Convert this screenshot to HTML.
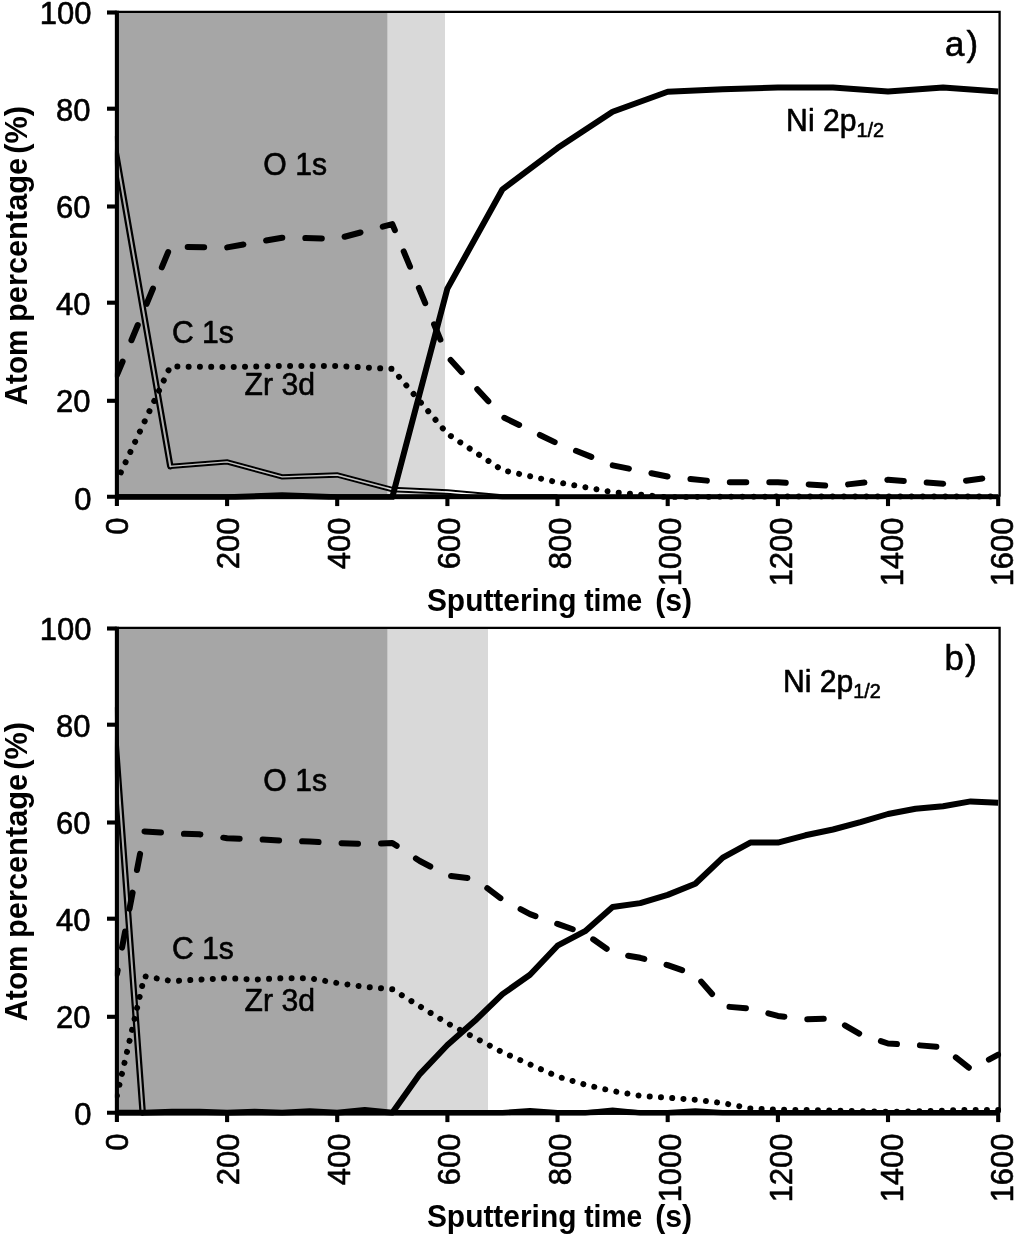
<!DOCTYPE html>
<html lang="en">
<head>
<meta charset="utf-8">
<title>XPS depth profiles</title>
<style>
html,body{margin:0;padding:0;background:#fff;}
body{width:1024px;height:1238px;overflow:hidden;}
svg{display:block;}
text{font-family:"Liberation Sans",sans-serif;fill:#000;}
.tick{font-size:31px;stroke:#000;stroke-width:0.6px;stroke-linejoin:round;}
.lab{font-size:31px;stroke:#000;stroke-width:0.6px;stroke-linejoin:round;}
.ttl text{font-size:31px;font-weight:bold;}
</style>
</head>
<body>
<svg width="1024" height="1238" viewBox="0 0 1024 1238">
<rect x="0" y="0" width="1024" height="1238" fill="#fff"/>

<g>
<rect x="116.9" y="12.5" width="270.8" height="484.3" fill="#a6a6a6"/>
<rect x="387.7" y="12.5" width="57.3" height="484.3" fill="#d9d9d9"/>
<path d="M116.9 11.8 H999.6 V496.8" fill="none" stroke="#000" stroke-width="2.3"/>
<clipPath id="cp0"><rect x="114.9" y="8.5" width="886.3" height="491.3"/></clipPath>
<g clip-path="url(#cp0)" fill="none" stroke="#000" stroke-linejoin="round">
<mask id="mk0" maskUnits="userSpaceOnUse" x="0" y="0" width="1024" height="1238" fill="none" stroke-linejoin="miter"><path d="M170.3 466.3 L227.1 461.9 L282.1 476.9 L337.2 475.0 L392.3 489.5 L447.4 492.0 L502.5 496.8 L557.5 496.8" stroke="#fff" stroke-width="5.3"/><path d="M113.0 136.5 L170.3 466.3 L171.13 466.23" stroke="#fff" stroke-width="6.5" stroke-linejoin="round"/><path d="M170.3 466.3 L227.1 461.9 L282.1 476.9 L337.2 475.0 L392.3 489.5 L447.4 492.0 L502.5 496.8 L557.5 496.8" stroke="#000" stroke-width="1.3"/><path d="M113.0 136.5 L170.3 466.3 L171.13 466.23" stroke="#000" stroke-width="2" stroke-linejoin="round"/></mask>
<rect x="100" y="7.5" width="920" height="494.3" fill="#000" stroke="none" mask="url(#mk0)"/>
<path d="M170.3 466.3 L227.1 461.9 L282.1 476.9 L337.2 475.0 L392.3 489.5 L447.4 492.0 L502.5 496.8 L557.5 496.8" stroke="#fff" stroke-opacity="0.33" stroke-width="1.3" stroke-linejoin="miter"/>
<path d="M113.0 136.5 L170.3 466.3 L171.13 466.23" stroke="#fff" stroke-opacity="0.12" stroke-width="2" stroke-linejoin="round"/>
<path d="M116.9 480.8 L170.3 366.5 L227.1 367.0 L282.1 366.0 L337.2 366.0 L392.3 368.9 L447.4 433.8 L502.5 470.2 L557.5 482.3 L612.6 492.2 L667.7 497.3 L722.8 496.8 L777.9 496.6 L833.0 496.6 L888.0 496.6 L943.1 496.6 L998.2 496.6" stroke-width="6" stroke-linecap="round" stroke-dasharray="0.01 11.26" stroke-dashoffset="2.00"/>
<path d="M116.9 375.2 L170.3 246.9 L227.1 247.4 L282.1 237.7 L337.2 238.7 L392.3 224.1 L447.4 356.4 L502.5 416.9 L557.5 443.5 L612.6 465.3 L667.7 476.5 L722.8 482.3 L777.9 482.3 L833.0 486.1 L888.0 479.8 L943.1 483.7 L998.2 476.5" stroke-width="6" stroke-linecap="round" stroke-dasharray="16.5 23" stroke-dashoffset="1.65"/>
<path d="M116.9 497.3 L170.3 497.3 L227.1 497.3 L282.1 495.3 L337.2 497.3 L392.3 497.3 L447.4 288.6 L502.5 189.3 L557.5 148.1 L612.6 111.8 L667.7 91.7 L722.8 89.3 L777.9 87.6 L833.0 87.6 L888.0 91.4 L943.1 87.6 L998.2 91.4" stroke-width="6" stroke-linecap="butt"/>
<path d="M116.9 496.8 L998.2 496.8" stroke-width="5.0"/>
</g>
<g stroke="#000" stroke-width="4.1" fill="none">
<path d="M116.9 10.7 V506.1"/>
<path d="M107.0 496.8 H999.7"/>
<path d="M107 12.5 H116.9"/>
<path d="M107 108.7 H116.9"/>
<path d="M107 206.5 H116.9"/>
<path d="M107 302.7 H116.9"/>
<path d="M107 400.8 H116.9"/>
<path d="M227.1 496.8 V506.1"/>
<path d="M337.2 496.8 V506.1"/>
<path d="M447.4 496.8 V506.1"/>
<path d="M557.5 496.8 V506.1"/>
<path d="M667.7 496.8 V506.1"/>
<path d="M777.9 496.8 V506.1"/>
<path d="M888.0 496.8 V506.1"/>
<path d="M998.2 496.8 V506.1"/>
</g>
<text class="tick" x="91.4" y="23.7" text-anchor="end">100</text>
<text class="tick" x="90.4" y="120.8" text-anchor="end">80</text>
<text class="tick" x="90.4" y="218.0" text-anchor="end">60</text>
<text class="tick" x="90.4" y="315.2" text-anchor="end">40</text>
<text class="tick" x="90.4" y="412.3" text-anchor="end">20</text>
<text class="tick" x="91.4" y="509.5" text-anchor="end">0</text>
<text class="tick" transform="translate(128.4 517.4) rotate(-90)" text-anchor="end">0</text>
<text class="tick" transform="translate(239.0 517.4) rotate(-90)" text-anchor="end">200</text>
<text class="tick" transform="translate(349.6 517.4) rotate(-90)" text-anchor="end">400</text>
<text class="tick" transform="translate(460.2 517.4) rotate(-90)" text-anchor="end">600</text>
<text class="tick" transform="translate(570.8 517.4) rotate(-90)" text-anchor="end">800</text>
<text class="tick" transform="translate(681.4 517.4) rotate(-90)" text-anchor="end">1000</text>
<text class="tick" transform="translate(791.9 517.4) rotate(-90)" text-anchor="end">1200</text>
<text class="tick" transform="translate(902.5 517.4) rotate(-90)" text-anchor="end">1400</text>
<text class="tick" transform="translate(1013.1 517.4) rotate(-90)" text-anchor="end">1600</text>
<g class="ttl">
<text transform="translate(426.90 611.2) scale(0.9655 1)">Sputtering</text>
<text transform="translate(584.20 611.2) scale(0.9102 1)">time</text>
<text transform="translate(655.22 611.2) scale(0.9758 1)">(s)</text>
<text transform="translate(26.9 405.30) rotate(-90) scale(0.9556 1)">Atom</text>
<text transform="translate(26.9 321.99) rotate(-90) scale(0.9929 1)">percentage</text>
<text transform="translate(26.9 153.69) rotate(-90) scale(0.9893 1)">(%)</text>
</g>
<text class="lab" transform="translate(263.3 175.1) scale(0.973 1)">O 1s</text>
<text class="lab" transform="translate(171.9 342.8) scale(0.973 1)">C 1s</text>
<text class="lab" transform="translate(244.6 394.9) scale(0.973 1)">Zr 3d</text>
<text class="lab" transform="translate(786.1 131.2) scale(0.973 1)">Ni 2p<tspan font-size="20.4px" dy="5.6">1/2</tspan></text>
<text class="lab" x="944.9" y="55.7" style="font-size:34.8px">a<tspan dx="2.2">)</tspan></text>
</g>
<g>
<rect x="116.9" y="628.5" width="270.8" height="484.3" fill="#a6a6a6"/>
<rect x="387.7" y="628.5" width="100.3" height="484.3" fill="#d9d9d9"/>
<path d="M116.9 627.8 H999.6 V1112.8" fill="none" stroke="#000" stroke-width="2.3"/>
<clipPath id="cp1"><rect x="114.9" y="624.5" width="886.3" height="491.3"/></clipPath>
<g clip-path="url(#cp1)" fill="none" stroke="#000" stroke-linejoin="round">
<mask id="mk1" maskUnits="userSpaceOnUse" x="0" y="0" width="1024" height="1238" fill="none" stroke-linejoin="miter"><path d="M142.7 1112.8 L585.1 1112.8 L612.6 1110.1 L640.2 1112.8 L998.2 1112.8" stroke="#fff" stroke-width="5.3"/><path d="M113.0 707.4 L142.7 1112.8 L143.48 1112.80" stroke="#fff" stroke-width="6.5" stroke-linejoin="round"/><path d="M142.7 1112.8 L585.1 1112.8 L612.6 1110.1 L640.2 1112.8 L998.2 1112.8" stroke="#000" stroke-width="1.3"/><path d="M113.0 707.4 L142.7 1112.8 L143.48 1112.80" stroke="#000" stroke-width="2" stroke-linejoin="round"/></mask>
<rect x="100" y="623.5" width="920" height="494.3" fill="#000" stroke="none" mask="url(#mk1)"/>
<path d="M142.7 1112.8 L585.1 1112.8 L612.6 1110.1 L640.2 1112.8 L998.2 1112.8" stroke="#fff" stroke-opacity="0.33" stroke-width="1.3" stroke-linejoin="miter"/>
<path d="M113.0 707.4 L142.7 1112.8 L143.48 1112.80" stroke="#fff" stroke-opacity="0.12" stroke-width="2" stroke-linejoin="round"/>
<path d="M116.9 1095.8 L144.4 976.2 L172.0 981.1 L199.5 979.6 L227.1 978.2 L254.6 979.6 L282.1 978.2 L309.7 978.2 L337.2 983.0 L364.8 986.9 L392.3 989.3 L419.8 1006.3 L447.4 1023.2 L474.9 1037.7 L502.5 1052.3 L530.0 1064.4 L557.5 1076.5 L585.1 1084.7 L612.6 1091.0 L640.2 1095.8 L667.7 1097.8 L695.3 1099.7 L722.8 1103.1 L750.3 1108.4 L777.9 1109.7 L805.4 1110.1 L833.0 1110.6 L860.5 1111.3 L888.0 1111.8 L915.6 1111.3 L943.1 1110.6 L970.7 1109.9 L998.2 1109.9" stroke-width="6" stroke-linecap="round" stroke-dasharray="0.01 11.26" stroke-dashoffset="0.00"/>
<path d="M116.9 974.3 L144.4 831.4 L172.0 833.4 L199.5 834.3 L227.1 838.2 L254.6 839.2 L282.1 840.6 L309.7 841.6 L337.2 843.0 L364.8 844.0 L392.3 843.0 L419.8 861.0 L447.4 875.5 L474.9 878.9 L502.5 899.7 L530.0 914.2 L557.5 923.9 L585.1 933.6 L612.6 953.0 L640.2 957.8 L667.7 965.1 L695.3 974.8 L722.8 1006.3 L750.3 1008.7 L777.9 1015.9 L805.4 1019.3 L833.0 1018.4 L860.5 1034.3 L888.0 1043.5 L915.6 1045.0 L943.1 1047.4 L970.7 1069.2 L998.2 1054.7" stroke-width="6" stroke-linecap="round" stroke-dasharray="16.5 23" stroke-dashoffset="12.35"/>
<path d="M116.9 1112.8 L144.4 1112.8 L172.0 1111.8 L199.5 1111.8 L227.1 1112.8 L254.6 1111.8 L282.1 1112.8 L309.7 1111.3 L337.2 1112.8 L364.8 1109.9 L392.3 1112.8 L419.8 1074.1 L447.4 1045.0 L474.9 1020.8 L502.5 994.1 L530.0 974.8 L557.5 945.7 L585.1 931.2 L612.6 907.0 L640.2 903.1 L667.7 894.9 L695.3 883.7 L722.8 857.6 L750.3 842.6 L777.9 842.6 L805.4 835.3 L833.0 829.5 L860.5 822.2 L888.0 814.0 L915.6 808.7 L943.1 806.2 L970.7 801.4 L998.2 802.8" stroke-width="6" stroke-linecap="butt"/>
<path d="M116.9 1112.8 L502.5 1112.8 L530.0 1110.9 L557.5 1112.8 L585.1 1112.8 L612.6 1111.8 L640.2 1112.8 L667.7 1112.8 L695.3 1111.1 L722.8 1112.8 L998.2 1112.8" stroke-width="5.6"/>
</g>
<g stroke="#000" stroke-width="4.1" fill="none">
<path d="M116.9 626.7 V1122.1"/>
<path d="M107.0 1112.8 H999.7"/>
<path d="M107 628.5 H116.9"/>
<path d="M107 724.7 H116.9"/>
<path d="M107 822.5 H116.9"/>
<path d="M107 918.7 H116.9"/>
<path d="M107 1016.8 H116.9"/>
<path d="M227.1 1112.8 V1122.1"/>
<path d="M337.2 1112.8 V1122.1"/>
<path d="M447.4 1112.8 V1122.1"/>
<path d="M557.5 1112.8 V1122.1"/>
<path d="M667.7 1112.8 V1122.1"/>
<path d="M777.9 1112.8 V1122.1"/>
<path d="M888.0 1112.8 V1122.1"/>
<path d="M998.2 1112.8 V1122.1"/>
</g>
<text class="tick" x="91.4" y="639.7" text-anchor="end">100</text>
<text class="tick" x="90.4" y="736.9" text-anchor="end">80</text>
<text class="tick" x="90.4" y="834.0" text-anchor="end">60</text>
<text class="tick" x="90.4" y="931.2" text-anchor="end">40</text>
<text class="tick" x="90.4" y="1028.3" text-anchor="end">20</text>
<text class="tick" x="91.4" y="1125.4" text-anchor="end">0</text>
<text class="tick" transform="translate(128.4 1133.4) rotate(-90)" text-anchor="end">0</text>
<text class="tick" transform="translate(239.0 1133.4) rotate(-90)" text-anchor="end">200</text>
<text class="tick" transform="translate(349.6 1133.4) rotate(-90)" text-anchor="end">400</text>
<text class="tick" transform="translate(460.2 1133.4) rotate(-90)" text-anchor="end">600</text>
<text class="tick" transform="translate(570.8 1133.4) rotate(-90)" text-anchor="end">800</text>
<text class="tick" transform="translate(681.4 1133.4) rotate(-90)" text-anchor="end">1000</text>
<text class="tick" transform="translate(791.9 1133.4) rotate(-90)" text-anchor="end">1200</text>
<text class="tick" transform="translate(902.5 1133.4) rotate(-90)" text-anchor="end">1400</text>
<text class="tick" transform="translate(1013.1 1133.4) rotate(-90)" text-anchor="end">1600</text>
<g class="ttl">
<text transform="translate(426.90 1227.2) scale(0.9655 1)">Sputtering</text>
<text transform="translate(584.20 1227.2) scale(0.9102 1)">time</text>
<text transform="translate(655.22 1227.2) scale(0.9758 1)">(s)</text>
<text transform="translate(26.9 1021.30) rotate(-90) scale(0.9556 1)">Atom</text>
<text transform="translate(26.9 937.99) rotate(-90) scale(0.9929 1)">percentage</text>
<text transform="translate(26.9 769.69) rotate(-90) scale(0.9893 1)">(%)</text>
</g>
<text class="lab" transform="translate(263.3 791.1) scale(0.973 1)">O 1s</text>
<text class="lab" transform="translate(171.9 958.8) scale(0.973 1)">C 1s</text>
<text class="lab" transform="translate(244.6 1010.9) scale(0.973 1)">Zr 3d</text>
<text class="lab" transform="translate(782.9 692.2) scale(0.973 1)">Ni 2p<tspan font-size="20.4px" dy="5.6">1/2</tspan></text>
<text class="lab" x="944.4" y="669.7" style="font-size:34.8px">b<tspan dx="1.6">)</tspan></text>
</g>
</svg>
</body>
</html>
